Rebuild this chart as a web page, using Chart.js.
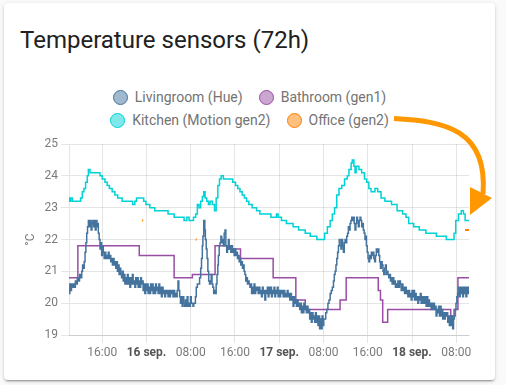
<!DOCTYPE html>
<html>
<head>
    <title>Temperature sensors (72h)</title>
    <style>
        body {
            margin: 0;
            padding: 0;
            background-color: #fafafa;
            font-family: Roboto, sans-serif;
        }

        .card {
            position: absolute;
            left: 4px;
            top: 3px;
            width: 491px;
            height: 377px;
            background-color: #fff;
            border-radius: 4px;
            box-shadow: 0 2px 2px 0 rgba(0,0,0,.14), 0 1px 5px 0 rgba(0,0,0,.12), 0 3px 1px -2px rgba(0,0,0,.2);
        }

        .card-title {
            position: absolute;
            left: 16px;
            top: 23px;
            font-size: 24px;
            line-height: 28px;
            color: #212121;
            white-space: nowrap;
        }

        .legend {
            position: absolute;
            left: 4px;
            top: 86px;
            width: 491px;
        }

        .legend-row {
            display: flex;
            justify-content: center;
            align-items: center;
            height: 22.7px;
        }

        .legend-item {
            display: inline-flex;
            align-items: center;
            margin: 0 8px;
            font-size: 14px;
            color: #737373;
            white-space: nowrap;
        }

        .bullet {
            box-sizing: border-box;
            width: 15px;
            height: 15px;
            border-radius: 50%;
            border: 1px solid;
            margin-right: 7px;
        }

        #chartBox {
            position: absolute;
            left: 0;
            top: 0;
        }

        #arrow {
            position: absolute;
            left: 0;
            top: 0;
        }
    </style>
</head>
<body>
    <div class="card">
        <div class="card-title">Temperature sensors (72h)</div>
    </div>
    <div class="legend" id="legend"></div>
    <canvas id="chartBox" width="506" height="385"></canvas>
    <svg id="arrow" width="506" height="385">
        <path d="M394,118.5 C445,121 488,130 483,194" fill="none" stroke="#ff9800" stroke-width="5"/>
        <polygon points="470,187 492,198 470,215" fill="#ff9800"/>
    </svg>

    <script src="https://cdn.jsdelivr.net/npm/chart.js"></script>
    <script>
        // hours counted from 15 sep 00:00
        var xTickValues = [16, 24, 32, 40, 48, 56, 64, 72, 80];
        var xTickLabels = ['16:00', '16 sep.', '08:00', '16:00', '17 sep.', '08:00', '16:00', '18 sep.', '08:00'];

        var seriesNames = ['Livingroom (Hue)', 'Bathroom (gen1)', 'Kitchen (Motion gen2)', 'Office (gen2)'];
        var seriesColors = ['#44739e', '#984ea3', '#00d2d5', '#ff7f00'];
        var seriesFills = ['rgba(68,115,158,0.5)', 'rgba(152,78,163,0.5)', 'rgba(0,210,213,0.5)', 'rgba(255,127,0,0.5)'];

        var livingroom = [
            [10.0, 20.3], [10.15, 20.6], [10.3, 20.4], [10.45, 20.6], [10.6, 20.5], [10.8, 20.6], [11.0, 20.5], [11.15, 20.7],
            [11.35, 20.6], [11.5, 20.8], [11.7, 20.7], [11.9, 20.9], [12.1, 20.8], [12.3, 21.0], [12.45, 21.2], [12.6, 21.1],
            [12.75, 21.3], [12.9, 21.6], [13.05, 21.9], [13.2, 22.2], [13.35, 22.4], [13.5, 22.6],
            [13.7, 22.4], [13.85, 22.6], [14.0, 22.3], [14.15, 22.5], [14.3, 22.6], [14.45, 22.4], [14.6, 22.6], [14.75, 22.3],
            [14.9, 22.6], [15.05, 22.4], [15.2, 22.5], [15.3, 22.2],
            [15.45, 22.0], [15.6, 21.7], [15.75, 21.9], [15.9, 21.5], [16.05, 21.8], [16.2, 21.6], [16.35, 21.4], [16.5, 21.6],
            [16.65, 21.4], [16.8, 21.5], [16.95, 21.4], [17.1, 21.6], [17.25, 21.4], [17.4, 21.5], [17.55, 21.3], [17.7, 21.4],
            [17.85, 21.2], [18.0, 21.4], [18.15, 21.2], [18.3, 21.3], [18.45, 21.1], [18.6, 21.3], [18.75, 21.0], [18.9, 21.2],
            [19.05, 20.9], [19.2, 21.1], [19.35, 20.9], [19.5, 20.8], [19.65, 21.0], [19.8, 20.7],
            [19.95, 20.9], [20.1, 20.6], [20.25, 20.8], [20.4, 20.6], [20.55, 20.9], [20.7, 20.6], [20.85, 20.8], [21.0, 20.5],
            [21.15, 20.8], [21.3, 20.6], [21.45, 20.9], [21.6, 20.6], [21.75, 20.7], [21.9, 20.5], [22.05, 20.8], [22.2, 20.6],
            [22.35, 20.8], [22.5, 20.5], [22.65, 20.7], [22.8, 20.5], [22.95, 20.8], [23.1, 20.6], [23.25, 20.7], [23.4, 20.4],
            [23.55, 20.6], [23.7, 20.3], [23.85, 20.6], [24.0, 20.4], [24.15, 20.6], [24.3, 20.3], [24.45, 20.5], [24.6, 20.3],
            [24.75, 20.6], [24.9, 20.4], [25.05, 20.6], [25.2, 20.3], [25.35, 20.5], [25.5, 20.3], [25.65, 20.6], [25.8, 20.4],
            [25.95, 20.5], [26.1, 20.3], [26.25, 20.6], [26.4, 20.3], [26.55, 20.5], [26.7, 20.2], [26.85, 20.5], [27.0, 20.3],
            [27.15, 20.4], [27.3, 20.2], [27.45, 20.4], [27.6, 20.3], [27.75, 20.4], [27.9, 20.2], [28.05, 20.4], [28.2, 20.2],
            [28.35, 20.4], [28.5, 20.3], [28.65, 20.4], [28.8, 20.2], [28.95, 20.4], [29.1, 20.2], [29.25, 20.3], [29.4, 20.2],
            [29.55, 20.4], [29.7, 20.7], [29.85, 20.4], [30.0, 20.2], [30.15, 20.0], [30.3, 20.2], [30.45, 19.9], [30.6, 20.2],
            [30.75, 20.0], [30.9, 19.9], [31.05, 20.1], [31.2, 19.9], [31.35, 20.2], [31.5, 19.9], [31.65, 20.0], [31.8, 19.9],
            [31.95, 20.2], [32.1, 20.0], [32.25, 20.0], [32.4, 19.9], [32.55, 20.0], [32.7, 20.0], [32.85, 20.2],
            [33.0, 20.5], [33.2, 20.6], [33.4, 20.6], [33.6, 20.8], [33.8, 21.1], [33.95, 21.4], [34.1, 21.8], [34.2, 22.1],
            [34.35, 22.6], [34.55, 22.3], [34.65, 22.0], [34.8, 21.7], [34.95, 21.4], [35.1, 21.0], [35.25, 20.7], [35.4, 20.6],
            [35.55, 20.7], [35.7, 20.9], [35.85, 20.6], [36.0, 20.5], [36.15, 20.3], [36.3, 20.4], [36.45, 20.3], [36.6, 20.6],
            [36.75, 20.9], [36.9, 21.2], [37.0, 21.5], [37.15, 21.8], [37.3, 21.9], [37.45, 22.1], [37.6, 21.9], [37.75, 22.0],
            [37.9, 21.8], [38.05, 22.2], [38.2, 22.3], [38.35, 21.8], [38.5, 21.6], [38.65, 21.8], [38.8, 22.0], [38.95, 21.7],
            [39.1, 21.8], [39.25, 21.6], [39.4, 21.8], [39.55, 21.6], [39.7, 21.7], [39.85, 21.5], [40.0, 21.7], [40.15, 21.5],
            [40.3, 21.6], [40.45, 21.4], [40.6, 21.5], [40.75, 21.3], [40.9, 21.4], [41.05, 21.2], [41.2, 21.3], [41.35, 21.1],
            [41.5, 21.2], [41.65, 21.0], [41.8, 20.9], [41.95, 20.7], [42.1, 20.8], [42.25, 20.6], [42.4, 20.7], [42.55, 20.6],
            [42.7, 20.5], [42.85, 20.6], [43.0, 20.3], [43.15, 20.5], [43.3, 20.3], [43.45, 20.6], [43.6, 20.3], [43.75, 20.5],
            [43.9, 20.4], [44.05, 20.5], [44.2, 20.3], [44.35, 20.5], [44.5, 20.3], [44.65, 20.4], [44.8, 20.2], [44.95, 20.5],
            [45.1, 20.3], [45.25, 20.4], [45.4, 20.1], [45.55, 20.4], [45.7, 20.3], [45.85, 20.5], [46.0, 20.2], [46.15, 20.5],
            [46.3, 20.3], [46.45, 20.5], [46.6, 20.2], [46.75, 20.4], [46.9, 20.3], [47.05, 20.5], [47.2, 20.2], [47.35, 20.4],
            [47.5, 20.3], [47.65, 20.5], [47.8, 20.2], [47.95, 20.4], [48.1, 20.2], [48.25, 20.4], [48.4, 20.3], [48.55, 20.4],
            [48.7, 20.2], [48.85, 20.4], [49.0, 20.2], [49.15, 20.3], [49.3, 20.2], [49.45, 20.4], [49.6, 20.2], [49.75, 20.3],
            [49.9, 20.1], [50.05, 20.3], [50.2, 20.1], [50.35, 20.2], [50.5, 19.9], [50.65, 20.2], [50.8, 20.0], [50.95, 20.1],
            [51.1, 19.9], [51.25, 20.1], [51.4, 19.9], [51.55, 20.0], [51.7, 19.8], [51.85, 20.0], [52.0, 19.7], [52.15, 19.9],
            [52.3, 19.7], [52.45, 20.0], [52.6, 19.8], [52.75, 19.9], [52.9, 19.7], [53.05, 19.9], [53.2, 19.7], [53.35, 19.8],
            [53.5, 19.5], [53.65, 19.7], [53.8, 19.4], [53.95, 19.7], [54.1, 19.5], [54.25, 19.6], [54.4, 19.4], [54.55, 19.7],
            [54.7, 19.4], [54.85, 19.6], [55.0, 19.3], [55.15, 19.6], [55.3, 19.2], [55.45, 19.5], [55.6, 19.2], [55.75, 19.6],
            [55.9, 19.3], [56.05, 19.5], [56.2, 19.5], [56.4, 19.7], [56.6, 19.8], [56.8, 20.0], [57.0, 20.1], [57.2, 20.3],
            [57.4, 20.4], [57.6, 20.5], [57.8, 20.7], [57.95, 20.9], [58.1, 21.0], [58.25, 21.2], [58.4, 21.4], [58.55, 21.6],
            [58.7, 21.8], [58.85, 22.0], [59.0, 21.8], [59.15, 21.7], [59.3, 22.0], [59.45, 21.8], [59.6, 21.6], [59.75, 21.9],
            [59.9, 22.0], [60.05, 21.9], [60.2, 22.1], [60.35, 22.2], [60.5, 22.4], [60.65, 22.3], [60.8, 22.5], [60.95, 22.6],
            [61.1, 22.7], [61.25, 22.6], [61.4, 22.7], [61.55, 22.5], [61.7, 22.3], [61.85, 22.5], [62.0, 22.7], [62.15, 22.6],
            [62.3, 22.4], [62.45, 22.6], [62.6, 22.7], [62.75, 22.6], [62.9, 22.4], [63.05, 22.5], [63.2, 22.3], [63.35, 22.2],
            [63.5, 22.0], [63.6, 22.1], [63.75, 21.8], [63.9, 21.6], [64.05, 21.4], [64.2, 21.3], [64.35, 21.5], [64.5, 21.4],
            [64.65, 21.6], [64.8, 21.5], [64.95, 21.6], [65.1, 21.4], [65.25, 21.3], [65.4, 21.5], [65.55, 21.7], [65.7, 21.6],
            [65.85, 21.7], [66.0, 21.5], [66.15, 21.3], [66.3, 21.1], [66.45, 21.3], [66.6, 21.2], [66.75, 21.0], [66.9, 20.9],
            [67.05, 21.1], [67.2, 21.2], [67.35, 20.9], [67.5, 21.0], [67.65, 20.9], [67.8, 20.8], [67.95, 20.9], [68.1, 20.7],
            [68.25, 20.8], [68.4, 20.6], [68.55, 20.8], [68.7, 20.6], [68.85, 20.7], [69.0, 20.5], [69.15, 20.6], [69.3, 20.5],
            [69.45, 20.7], [69.6, 20.5], [69.75, 20.7], [69.9, 20.6], [70.05, 20.4], [70.2, 20.6], [70.35, 20.4], [70.5, 20.5],
            [70.65, 20.3], [70.8, 20.5], [70.95, 20.3], [71.1, 20.4], [71.25, 20.2], [71.4, 20.4], [71.55, 20.2], [71.7, 20.3],
            [71.85, 20.1], [72.0, 20.4], [72.15, 20.2], [72.3, 20.4], [72.45, 20.1], [72.6, 20.3], [72.75, 20.1], [72.9, 20.2],
            [73.05, 20.0], [73.2, 20.2], [73.35, 20.1], [73.5, 20.3], [73.65, 20.0], [73.8, 20.2], [73.95, 20.0], [74.1, 20.2],
            [74.25, 20.0], [74.4, 20.2], [74.55, 19.9], [74.7, 20.2], [74.85, 19.9], [75.0, 20.1], [75.15, 19.9], [75.3, 20.0],
            [75.45, 19.8], [75.6, 20.0], [75.75, 19.8], [75.9, 20.0], [76.05, 19.8], [76.2, 19.9], [76.35, 19.6], [76.5, 19.8],
            [76.65, 19.7], [76.8, 19.9], [76.95, 19.6], [77.1, 19.9], [77.25, 19.6], [77.4, 19.8], [77.55, 19.5], [77.7, 19.7],
            [77.85, 19.5], [78.0, 19.7], [78.15, 19.6], [78.3, 19.7], [78.45, 19.4], [78.6, 19.6], [78.75, 19.3], [78.9, 19.6],
            [79.05, 19.3], [79.2, 19.6], [79.35, 19.2], [79.5, 19.5], [79.65, 19.6], [79.8, 19.8], [79.95, 20.0], [80.1, 20.2],
            [80.25, 20.3], [80.4, 20.5], [80.55, 20.2], [80.7, 20.5], [80.85, 20.3], [81.0, 20.5], [81.15, 20.2], [81.3, 20.5],
            [81.45, 20.3], [81.6, 20.5], [81.75, 20.2], [81.9, 20.5], [82.05, 20.3], [82.2, 20.5], [82.3, 20.5]
        ];

        var bathroom = [
            [10.0, 20.8], [11.6, 21.8], [22.7, 21.5], [29.0, 20.8], [32.3, 20.9], [36.4, 21.8], [38.8, 21.7], [41.0, 21.4],
            [46.9, 20.8], [51.0, 20.1], [52.7, 19.8], [59.0, 20.1], [60.1, 20.8], [65.9, 20.4], [66.3, 20.1], [66.7, 19.4],
            [67.6, 19.8], [79.0, 19.6], [79.6, 19.8], [80.3, 20.8], [82.3, 20.8]
        ];

        var kitchen = [
            [10.0, 23.3], [10.1, 23.2], [10.3, 23.3], [10.6, 23.2], [12.1, 23.3], [12.4, 23.5], [12.7, 23.6], [13.0, 23.8],
            [13.3, 24.0], [13.5, 24.2], [13.8, 24.1], [15.6, 24.0], [16.0, 23.9], [16.5, 23.8], [16.9, 23.7], [17.3, 23.6],
            [17.8, 23.5], [18.3, 23.4], [18.8, 23.3], [19.6, 23.2], [21.5, 23.1], [21.9, 23.2], [22.2, 23.3], [23.5, 23.2],
            [23.9, 23.1], [24.6, 23.0], [25.5, 22.9], [27.9, 22.8], [29.0, 22.7], [30.8, 22.6], [31.3, 22.7], [31.7, 22.6],
            [32.5, 22.7], [32.9, 22.8], [33.2, 23.1], [33.5, 23.0], [33.8, 23.2], [34.1, 23.35], [34.35, 23.5], [34.6, 23.3],
            [34.9, 23.2], [35.2, 23.1], [35.5, 23.2], [35.9, 23.1], [36.3, 22.9], [36.6, 23.3], [36.9, 23.7], [37.2, 23.9],
            [37.5, 24.0], [37.9, 23.9], [39.6, 23.8], [40.1, 23.7], [40.5, 23.6], [40.9, 23.5], [41.3, 23.4], [41.7, 23.3],
            [42.1, 23.2], [42.5, 23.1], [43.1, 23.0], [43.9, 22.9], [44.5, 22.8], [46.5, 22.7], [47.5, 22.8], [47.8, 22.7],
            [48.4, 22.6], [49.3, 22.5], [50.5, 22.4], [51.5, 22.3], [52.7, 22.2], [53.6, 22.1], [54.8, 22.0], [56.2, 22.2],
            [56.7, 22.4], [57.2, 22.6], [57.6, 22.8], [58.0, 23.0], [58.4, 23.4], [58.8, 23.6], [59.3, 23.7], [59.8, 23.9],
            [60.3, 24.0], [60.6, 24.2], [61.0, 24.4], [61.2, 24.5], [61.5, 24.3], [61.7, 24.1], [61.9, 24.3], [62.4, 24.2],
            [62.9, 24.1], [63.4, 23.9], [63.8, 23.8], [64.2, 23.6], [64.6, 23.5], [65.3, 23.6], [65.8, 23.5], [66.4, 23.3],
            [67.1, 23.2], [68.3, 23.1], [69.3, 22.9], [70.3, 22.8], [70.9, 22.7], [71.4, 22.5], [72.3, 22.4], [73.3, 22.3],
            [74.5, 22.2], [76.4, 22.1], [78.2, 22.0], [79.6, 22.2], [79.9, 22.6], [80.4, 22.8], [80.9, 22.9], [81.3, 22.8],
            [81.6, 22.6], [82.3, 22.6]
        ];

        // only a few readings, gaps in between
        var office = [
            [23.2, 22.6], [23.4, 22.6], [23.5, null],
            [32.9, 22.0], [33.1, 22.0], [33.2, null],
            [81.6, 22.3], [82.3, 22.3]
        ];

        function toPoints(arr) {
            return arr.map(function(p) {
                return { x: p[0], y: p[1] };
            });
        }

        // html legend
        var legendDiv = document.getElementById('legend');
        var rows = [[0, 1], [2, 3]];
        rows.forEach(function(row) {
            var rowDiv = document.createElement('div');
            rowDiv.className = 'legend-row';
            row.forEach(function(i) {
                var item = document.createElement('div');
                item.className = 'legend-item';
                item.innerHTML = '<span class="bullet" style="border-color:' + seriesColors[i] +
                    ';background-color:' + seriesFills[i] + '"></span><span>' + seriesNames[i] + '</span>';
                rowDiv.appendChild(item);
            });
            legendDiv.appendChild(rowDiv);
        });

        var allSeries = [livingroom, bathroom, kitchen, office];
        var datasets = allSeries.map(function(s, i) {
            return {
                label: seriesNames[i],
                data: toPoints(s),
                borderColor: seriesColors[i],
                backgroundColor: seriesFills[i],
                borderWidth: i === 3 ? 2 : 1.5,
                stepped: true,
                fill: false,
                pointRadius: 0,
                spanGaps: false
            };
        });

        var tickColor = '#7a7a7a';
        var gridColor = 'rgba(0,0,0,0.1)';

        var chart = new Chart(document.getElementById('chartBox'), {
            type: 'line',
            data: { datasets: datasets },
            options: {
                responsive: false,
                animation: false,
                devicePixelRatio: 1,
                layout: {
                    padding: { left: 20, top: 144, right: 37, bottom: 10 }
                },
                plugins: {
                    legend: { display: false },
                    tooltip: { enabled: false }
                },
                scales: {
                    x: {
                        type: 'linear',
                        min: 10,
                        max: 82.3,
                        afterBuildTicks: function(scale) {
                            scale.ticks = xTickValues.map(function(v) { return { value: v }; });
                        },
                        afterFit: function(scale) {
                            scale.height = 40;
                        },
                        grid: { color: gridColor },
                        border: { color: gridColor },
                        ticks: {
                            autoSkip: false,
                            maxRotation: 0,
                            callback: function(value) {
                                return xTickLabels[xTickValues.indexOf(value)];
                            },
                            font: function(ctx) {
                                var bold = ctx.tick && String(ctx.tick.label).indexOf('sep') >= 0;
                                return { family: 'Roboto', size: 12, weight: bold ? 'bold' : 'normal' };
                            },
                            color: function(ctx) {
                                var bold = ctx.tick && String(ctx.tick.label).indexOf('sep') >= 0;
                                return bold ? '#555' : tickColor;
                            }
                        }
                    },
                    y: {
                        min: 19,
                        max: 25,
                        afterFit: function(scale) {
                            scale.width = 49;
                        },
                        grid: { color: gridColor },
                        border: { color: gridColor },
                        ticks: {
                            stepSize: 1,
                            color: tickColor,
                            font: { family: 'Roboto', size: 12 }
                        },
                        title: {
                            display: true,
                            text: '°C',
                            color: tickColor,
                            font: { family: 'Roboto', size: 12 }
                        }
                    }
                }
            }
        });
    </script>
</body>
</html>
